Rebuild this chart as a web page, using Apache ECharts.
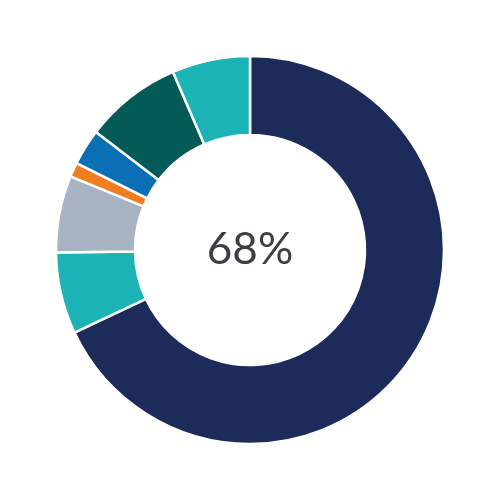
<!DOCTYPE html>
<html><head><meta charset="utf-8">
<script src="https://cdn.jsdelivr.net/npm/echarts@6/dist/echarts.min.js"></script>
<style>html,body{margin:0;padding:0;background:#fff}#c{width:500px;height:500px}</style>
</head><body><div id="c"></div>
<script>
var names = ['A','B','C','D','E','F','G'];
var values = [68, 6.8, 6.4, 1.2, 3.0, 8.1, 6.5];
var colors = ['#1c2b5a','#1bb3b6','#a9b4c2','#f07d1f','#0a6fb5','#035a57','#1bb3b6'];
var centerLabel = '68%';
var chart = echarts.init(document.getElementById('c'));
chart.setOption({
  animation:false,
  title:{text:centerLabel,left:'center',top:'center',textStyle:{fontFamily:'Lato',fontWeight:'normal',fontSize:44,color:'#3d3d45'}},
  series:[{type:'pie',center:[250,250],radius:[115,194],startAngle:90,clockwise:true,
    label:{show:false},labelLine:{show:false},
    itemStyle:{borderColor:'#fff',borderWidth:2.5},
    data:names.map(function(n,i){return {name:n,value:values[i],itemStyle:{color:colors[i]}};})
  }]
});
</script></body></html>
